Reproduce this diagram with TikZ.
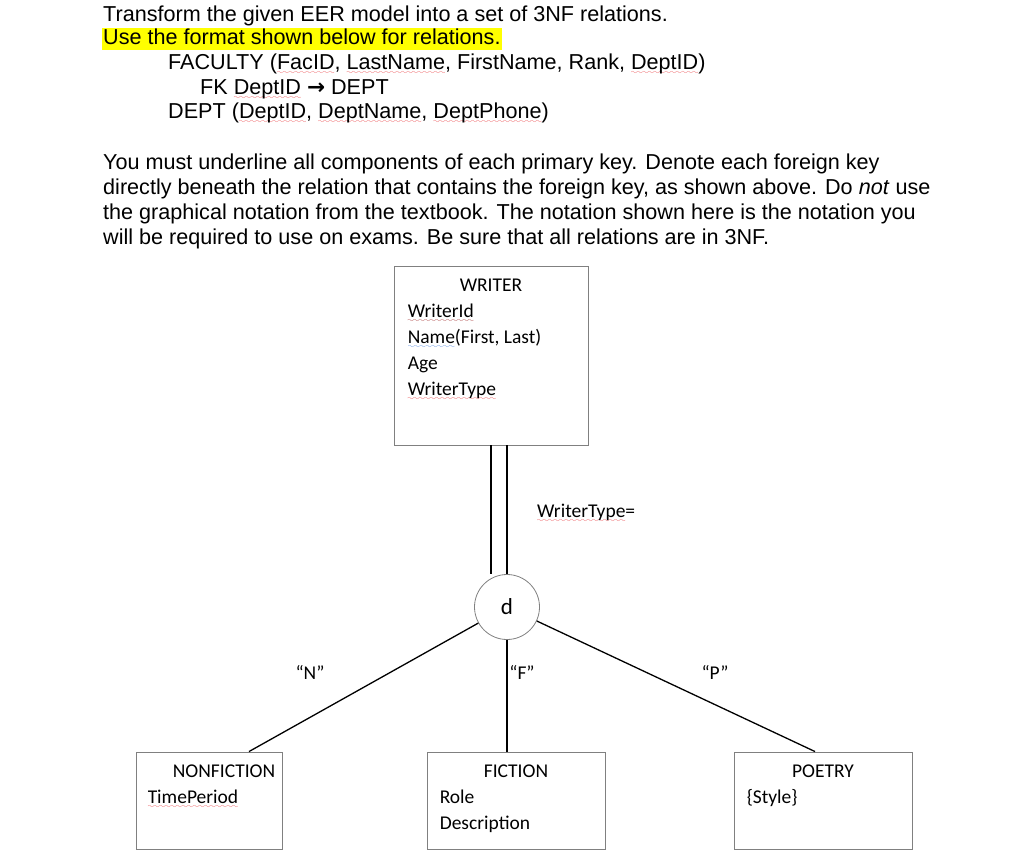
\documentclass[tikz,border=0pt]{standalone}
\usepackage{fontspec}
\setmainfont{Liberation Sans}
\newfontfamily\calib{Carlito}
\newfontfamily\dvs{DejaVu Sans}
\usetikzlibrary{positioning, calc}
\definecolor{hlYellow}{HTML}{FFFF00}
\definecolor{wvRed}{HTML}{E8383C}
\definecolor{wvDark}{HTML}{A02828}
\definecolor{wvBlue}{HTML}{3D78DA}
\definecolor{boxGray}{HTML}{808080}
\font\wavefnt=lasy10 at 8pt
\newsavebox\wvbox
\newcommand\wv[2][wvRed]{\sbox\wvbox{#2}\rlap{\textcolor{#1}{\lower5pt\hbox to\wd\wvbox{\xleaders\hbox{\wavefnt\char58}\hfil}}}\usebox\wvbox}
\newcommand\dfont{\calib\fontsize{19.5}{23}\selectfont}

\begin{document}
\begin{tikzpicture}[x=1pt, y=-1pt,
      txt/.style={anchor=base west, inner sep=0pt, font=\fontsize{21.6}{25}\selectfont},
      ent/.style={draw=boxGray, line width=0.9pt, minimum width=178pt,
                  minimum height=97pt, inner sep=0pt},
      ttl/.style={anchor=base, inner sep=0pt, font=\dfont},
      attr/.style={anchor=base west, inner sep=0pt, font=\dfont},
      conn/.style={line width=1.3pt, black}]
    \useasboundingbox (0,0) rectangle (1024,851);

    \node[txt] (l1) at (103,22) {Transform the given EER model into a set of 3NF relations.};
    \node[txt, fill=hlYellow, inner xsep=1pt, text height=16.5pt, text depth=5pt] (l2) at (102,45)
      {Use the format shown below for relations.};
    \node[txt] (l3) at (168,70) {FACULTY (\wv{FacID}, \wv{LastName}, FirstName, Rank, \wv{DeptID})};
    \node[txt] (l4) at (200,94) {FK \wv{DeptID} {\dvs\bfseries →} DEPT};
    \node[txt] (l5) at (168,118) {DEPT (\wv{DeptID}, \wv{DeptName}, \wv{DeptPhone})};

    \node[txt] (p1) at (103,169) {You must underline all components of each primary key. Denote each foreign key};
    \node[txt] (p2) at (103,194) {directly beneath the relation that contains the foreign key, as shown above. Do \textit{not} use};
    \node[txt] (p3) at (103,219) {the graphical notation from the textbook. The notation shown here is the notation you};
    \node[txt] (p4) at (103,244) {will be required to use on exams. Be sure that all relations are in 3NF.};

    % supertype
    \node[ent, minimum width=194pt, minimum height=179pt] (writer) at (491,355.5) {};
    \node[ttl] (writerT) at ($(writer.north)+(0,26)$) {WRITER};
    \node[attr] (wid) at ($(writer.north west)+(14,52)$) {\wv[wvDark]{WriterId}};
    \node[attr] (wname) at ($(wid.base west)+(0,26)$) {\wv[wvBlue]{Name}(First, Last)};
    \node[attr] (wage) at ($(wname.base west)+(0,26)$) {Age};
    \node[attr] (wtype) at ($(wage.base west)+(0,26)$) {\wv{WriterType}};

    \node[circle, draw=boxGray, line width=0.8pt, minimum size=65pt, inner sep=0pt,
          font=\calib\fontsize{23}{27}\selectfont] (d) at (507,607) {d};
    \node[attr, anchor=west] (disc) at (537,513) {\wv{WriterType}=};

    % subtypes
    \node[ent, minimum width=146pt] (nf) at (209,800.5) {};
    \node[ttl] (nfT) at ($(nf.north)+(15,25.5)$) {NONFICTION};
    \node[attr] (nfa) at ($(nf.north west)+(12,52)$) {\wv{TimePeriod}};

    \node[ent] (fic) at (516,800.5) {};
    \node[ttl] (ficT) at ($(fic.north)+(0,25.5)$) {FICTION};
    \node[attr] (fica) at ($(fic.north west)+(13,52)$) {Role};
    \node[attr] (ficb) at ($(fica.base west)+(0,26)$) {Description};

    \node[ent] (poe) at (823,800.5) {};
    \node[ttl] (poeT) at ($(poe.north)+(0,25.5)$) {POETRY};
    \node[attr] (poea) at ($(poe.north west)+(13,52)$) {\{Style\}};

    \coordinate (dl) at (491,574);
    \draw[conn] (writer.south) -- (dl);
    \draw[conn] (d.north |- writer.south) -- (d.north);
    \draw[conn] (d) -- ([xshift=40pt]nf.north);
    \draw[conn] (d) -- (d |- fic.north);
    \draw[conn] (d) -- ([xshift=-8pt]poe.north);

    \node[attr, anchor=center] (qn) at (310,672) {“N”};
    \node[attr, anchor=center] (qf) at (522,672) {“F”};
    \node[attr, anchor=center] (qp) at (715,672) {“P”};
  \end{tikzpicture}
\end{document}
